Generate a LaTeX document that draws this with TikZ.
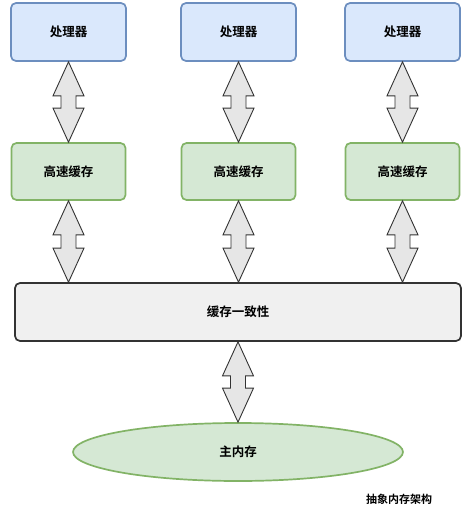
\documentclass[tikz,border=0pt]{standalone}
\usepackage{fontspec}
\setmainfont{Noto Sans CJK SC}[BoldFont={Noto Sans CJK SC Bold}]
\usetikzlibrary{shapes.geometric,calc}

\definecolor{cpufill}{HTML}{DAE8FC}
\definecolor{cpuline}{HTML}{6C8EBF}
\definecolor{cachefill}{HTML}{D5E8D4}
\definecolor{cacheline}{HTML}{82B366}
\definecolor{busfill}{HTML}{F0F0F0}
\definecolor{arrowfill}{HTML}{E6E6E6}

\tikzset{
  unit/.style={rounded corners=5pt, line width=1.7pt, font=\bfseries\fontsize{12.5}{14}\selectfont,
    inner sep=0pt},
  cpu/.style={unit, draw=cpuline, fill=cpufill, minimum width=115pt, minimum height=58pt},
  cache/.style={unit, draw=cacheline, fill=cachefill, minimum width=114pt, minimum height=57pt},
  bus/.style={unit, draw=black!80, fill=busfill, minimum width=446pt, minimum height=58pt},
  mainmem/.style={ellipse, line width=1.7pt, draw=cacheline, fill=cachefill, inner sep=0pt,
    minimum width=330pt, minimum height=58pt, font=\bfseries\fontsize{12.5}{14}\selectfont},
  biarrow/.style={draw=black!80, fill=arrowfill, line width=0.9pt, line join=miter},
}

% double-headed block arrow from the bottom of #1 straight down to #2
\newcommand{\biarrow}[2]{%
  \draw[biarrow] let \p1=(#1.south), \p2=(#1.south |- #2.north) in
    (\x1,\y1) -- (\x1+15.5pt,\y1-34pt) -- (\x1+7.5pt,\y1-34pt)
    -- (\x1+7.5pt,\y2+34pt) -- (\x1+15.5pt,\y2+34pt) -- (\x2,\y2)
    -- (\x1-15.5pt,\y2+34pt) -- (\x1-7.5pt,\y2+34pt)
    -- (\x1-7.5pt,\y1-34pt) -- (\x1-15.5pt,\y1-34pt) -- cycle;}

\begin{document}
\begin{tikzpicture}[x=1pt,y=-1pt]
  \useasboundingbox (0,0) rectangle (474,507);
  % processors and their caches
  \foreach \x/\i in {68.5/1,238.5/2,402.5/3} {
    \node[cpu] (cpu\i) at (\x,32) {处理器};
    \node[cache] (cache\i) at (\x,171.5) {高速缓存};
  }
  % coherence layer and main memory
  \node[bus] (coherence) at (238,312) {缓存一致性};
  \node[mainmem] (memory) at (238,452) {主内存};
  % arrows
  \foreach \i in {1,2,3} {
    \biarrow{cpu\i}{cache\i}
    \biarrow{cache\i}{coherence}
  }
  \biarrow{coherence}{memory}
  % caption
  \node[font=\bfseries\fontsize{11}{13}\selectfont] (caption) at (399,499.5) {抽象内存架构};
\end{tikzpicture}
\end{document}
